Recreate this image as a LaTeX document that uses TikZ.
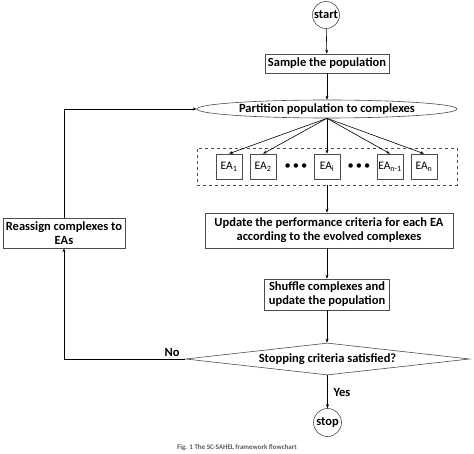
\documentclass[tikz,border=0pt]{standalone}
\usepackage{fontspec}
\setmainfont{Carlito}
\usetikzlibrary{shapes.geometric,arrows.meta}

\begin{document}
\begin{tikzpicture}[x=1pt,y=-1pt,line width=0.6pt,
  >={Stealth[length=4pt,width=3pt]},
  every node/.style={font=\fontsize{12.5}{14}\selectfont},
  box/.style={draw=black!70,font=\fontsize{12.5}{14}\selectfont\bfseries,align=center,inner sep=1pt},
  term/.style={draw=black!70,circle,minimum size=27pt,inner sep=0pt,font=\fontsize{12.5}{14}\selectfont\bfseries},
  eabox/.style={draw=black!70,minimum width=26pt,minimum height=25pt,inner sep=0pt,font=\fontsize{11.5}{13}\selectfont},
  lbl/.style={font=\fontsize{12.5}{14}\selectfont\bfseries}]
\useasboundingbox (0,0) rectangle (474,454);

\node[term] (start) at (326,15) {start};
\node[box,minimum width=124pt,minimum height=19pt] (sample) at (327,63.5) {Sample the population};
\node[box,ellipse,minimum width=260pt,minimum height=18pt,inner xsep=-30pt,inner ysep=0pt] (part) at (327,109) {Partition population to complexes};

\node[eabox] (ea1) at (229,166.5) {EA\textsubscript{1}};
\node[eabox] (ea2) at (263,166.5) {EA\textsubscript{2}};
\node[eabox] (eai) at (327,166.5) {EA\textsubscript{i}};
\node[eabox] (eam) at (390,166.5) {EA\textsubscript{n-1}};
\node[eabox] (ean) at (424,166.5) {EA\textsubscript{n}};
\node (dotsa) at (296,166.5) {\textbullet\,\textbullet\,\textbullet};
\node (dotsb) at (359,166.5) {\textbullet\,\textbullet\,\textbullet};
\node[draw=black!70,dashed,minimum width=260pt,minimum height=37pt] (grp) at (327,166.5) {};

\node[box,minimum width=248pt,minimum height=35pt] (update) at (329,230.5) {Update the performance criteria for each EA\\according to the evolved complexes};
\node[box,minimum width=125pt,minimum height=31pt] (shuffle) at (327,294.5) {Shuffle complexes and\\update the population};
\node[box,diamond,aspect=9,minimum width=284pt,minimum height=32pt,inner sep=0pt] (check) at (327.5,359) {Stopping criteria satisfied?};
\node[term,minimum size=28pt] (stop) at (327.5,422.5) {stop};
\node[box,minimum width=122pt,minimum height=30pt] (reassign) at (64,233) {Reassign complexes to\\EAs};

\node[lbl] (no) at (172,352) {No};
\node[lbl] (yes) at (342,392) {Yes};
\node[font=\fontsize{7}{8}\selectfont\bfseries,text=black!65,inner sep=0pt] (cap) at (237,448) {Fig. 1 The SC-SAHEL framework flowchart};

\draw[->] (start) -- (sample);
\draw[->] (sample) -- (part);
\foreach \e in {ea1,ea2,eai,eam,ean} {\draw[->] (part.south) -- (\e.north);}
\draw[->] (grp.south) -- (grp.south |- update.north);
\draw[->] (shuffle.north |- update.south) -- (shuffle.north);
\draw[->] (shuffle.south) -- (shuffle.south |- check.north);
\draw[->] (check.south) -- (stop);
\draw[->] (check.west) -| (reassign.south);
\draw[->] (reassign.north) |- (part.west);

\end{tikzpicture}
\end{document}
